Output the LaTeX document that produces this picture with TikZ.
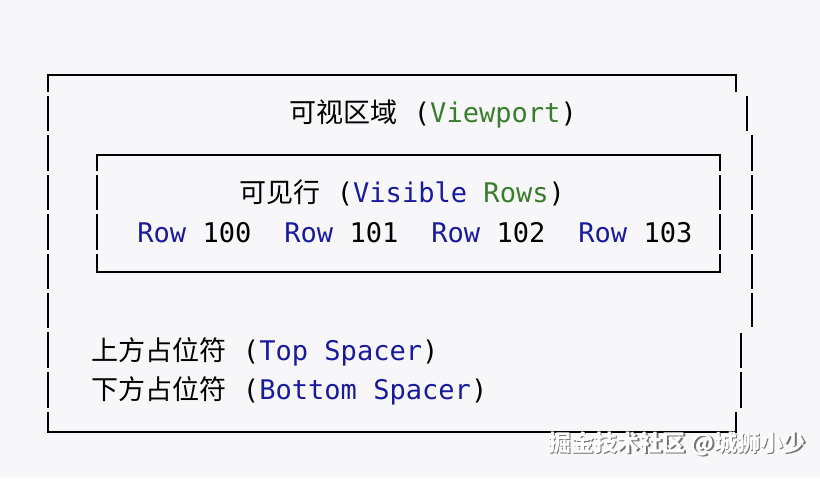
\documentclass[tikz,border=0pt]{standalone}
\usepackage{fontspec}
\setmonofont{DejaVu Sans Mono}
\newfontfamily\cjk{Noto Sans CJK SC}
\usepackage{tikz}

\definecolor{vpgreen}{RGB}{58,125,44}
\definecolor{rowblue}{RGB}{26,26,156}
\definecolor{paper}{RGB}{247,247,249}

\begin{document}
\begin{tikzpicture}[x=0.02cm, y=-0.02cm, line width=1.6pt,
  txt/.style={anchor=base west, inner sep=0pt, font=\ttfamily\fontsize{15.4}{18}\selectfont},
  wmark/.style={anchor=base west, inner sep=0pt, font=\cjk\bfseries\fontsize{13}{15}\selectfont}]
  \fill[paper] (0,0) rectangle (820,478);
  \useasboundingbox (0,0) rectangle (820,478);
  % outer box (viewport)
  \draw (48,92) -- (48,75) -- (736,75) -- (736,92);
  \draw (48,412) -- (48,432) -- (736,432) -- (736,412);
  \foreach \a/\b in {96/131,135/171,175/210,214/250,254/289,293/328,332/368,372/408}
    \draw (48,\a) -- (48,\b);
  \draw (747,96) -- (747,131);
  \foreach \a/\b in {135/171,175/210,214/250,254/289,293/327}
    \draw (752,\a) -- (752,\b);
  \foreach \a/\b in {333/368,372/408}
    \draw (741,\a) -- (741,\b);
  % inner box (visible rows)
  \draw (97,171) -- (97,155) -- (720,155) -- (720,171);
  \draw (97,254) -- (97,272) -- (720,272) -- (720,254);
  \foreach \a/\b in {175/210,214/250}
    \draw (97,\a) -- (97,\b) (720,\a) -- (720,\b);
  % texts
  \node[txt] (viewport) at (288,122) {{\cjk 可视区域} (\textcolor{vpgreen}{Viewport})};
  \node[txt] (visible) at (238,202) {{\cjk 可见行} (\textcolor{rowblue}{Visible} \textcolor{vpgreen}{Rows})};
  \foreach \n/\x in {100/136,101/283,102/430,103/577}
    \node[txt] (row\n) at (\x,242) {\textcolor{rowblue}{Row} \n};
  \node[txt] (topspacer) at (90,360) {{\cjk 上方占位符} (\textcolor{rowblue}{Top Spacer})};
  \node[txt] (bottomspacer) at (90,399) {{\cjk 下方占位符} (\textcolor{rowblue}{Bottom Spacer})};
  % watermark
  \node[wmark, text=black!55] (wmshade) at (548.5,452.5) {掘金技术社区 @城狮小少};
  \node[wmark, text=white] (wm) at (547,451) {掘金技术社区 @城狮小少};
\end{tikzpicture}
\end{document}
